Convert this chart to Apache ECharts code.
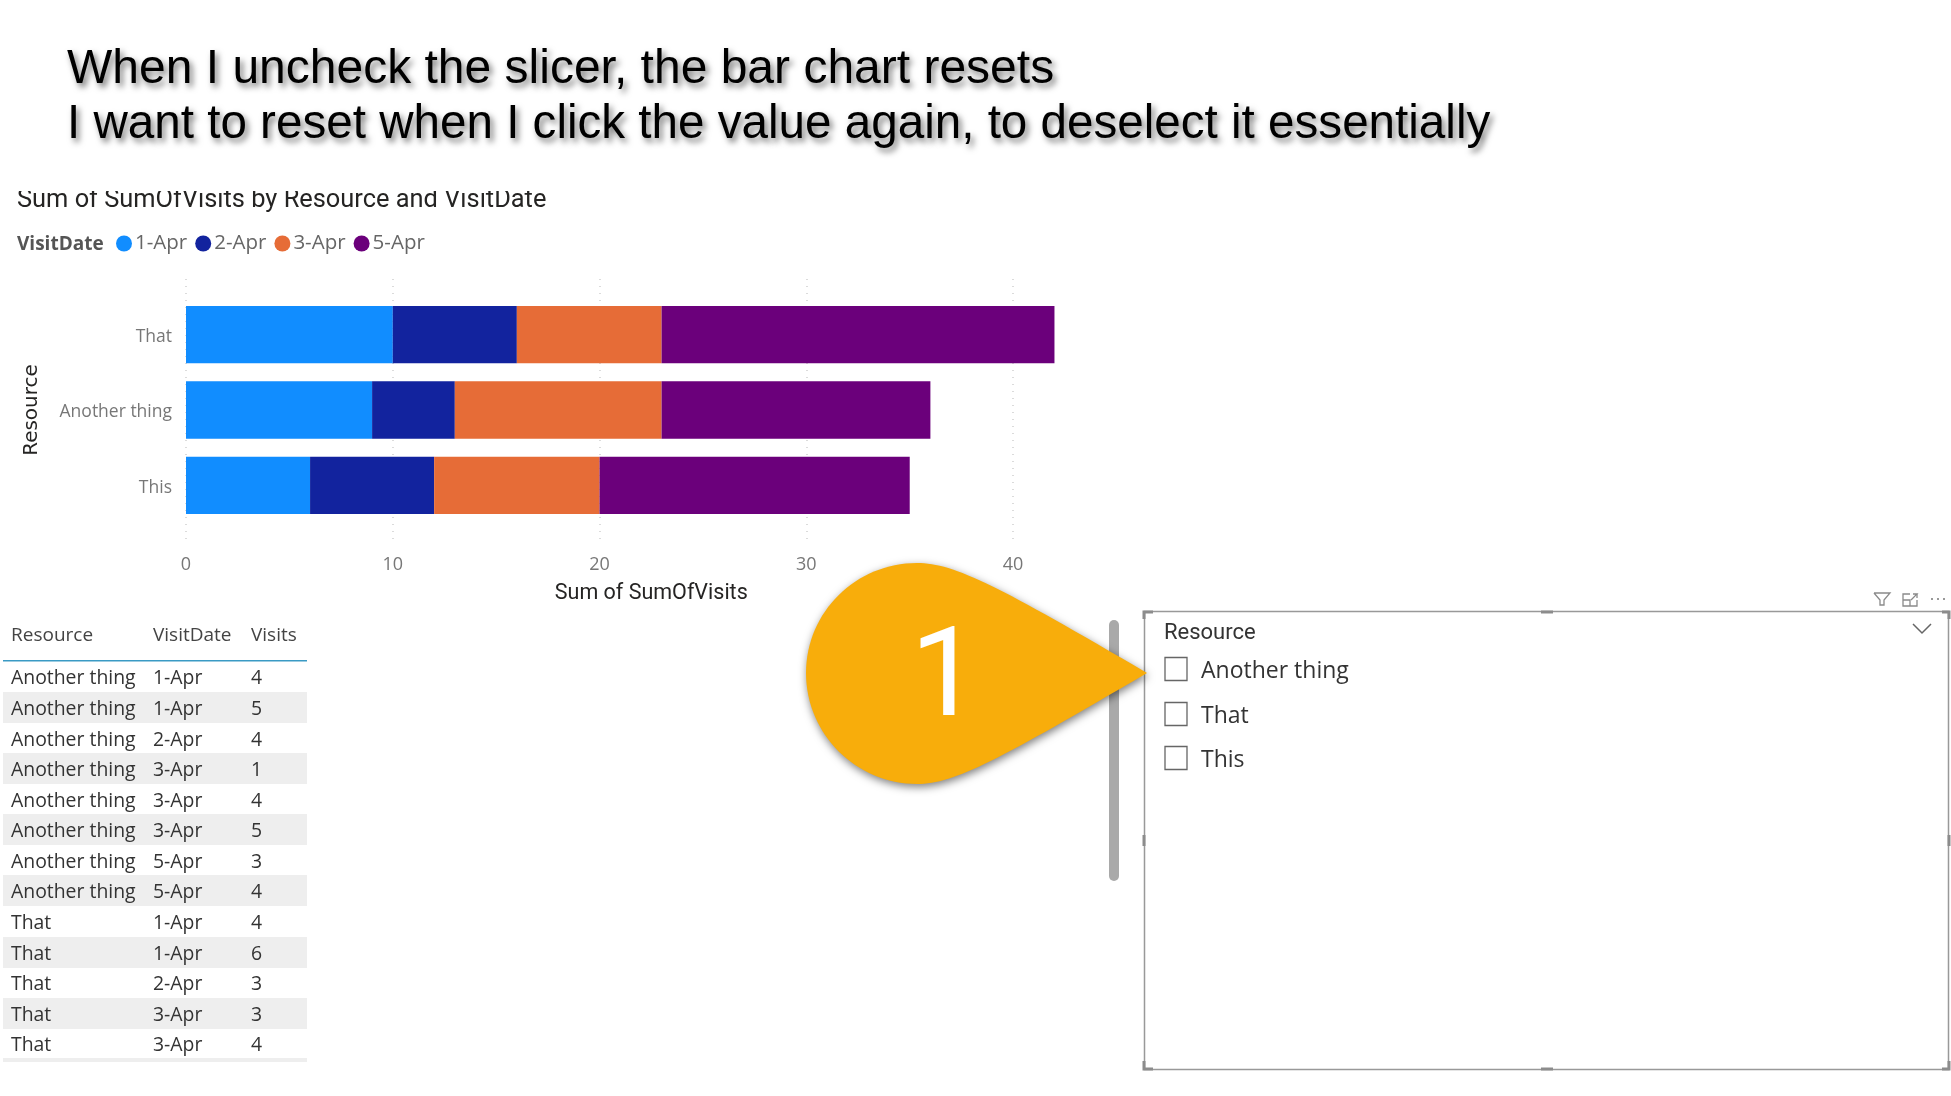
<!DOCTYPE html>
<html>
<head>
<meta charset="utf-8">
<title>Slicer</title>
<script src="https://cdn.jsdelivr.net/npm/echarts@6/dist/echarts.min.js"></script>
<style>
  html, body { margin: 0; padding: 0; background: #fff; }
  #main { width: 1951px; height: 1096px; }
</style>
</head>
<body>
<div id="main"></div>
<script>
// chart data
const resources = ['That', 'Another thing', 'This']
const dates = ['1-Apr', '2-Apr', '3-Apr', '5-Apr']
const apr1 = [10, 9, 6]
const apr2 = [6, 4, 6]
const apr3 = [7, 10, 8]
const apr5 = [19, 13, 15]
const colors = ['#118DFF', '#12239E', '#E66C37', '#6B007B']
const xTicks = [0, 10, 20, 30, 40]

// table visual
const tableHeader = ['Resource', 'VisitDate', 'Visits']
const tableResource = ['Another thing', 'Another thing', 'Another thing', 'Another thing', 'Another thing', 'Another thing', 'Another thing', 'Another thing', 'That', 'That', 'That', 'That', 'That']
const tableDate = ['1-Apr', '1-Apr', '2-Apr', '3-Apr', '3-Apr', '3-Apr', '5-Apr', '5-Apr', '1-Apr', '1-Apr', '2-Apr', '3-Apr', '3-Apr']
const tableVisits = [4, 5, 4, 1, 4, 5, 3, 4, 4, 6, 3, 3, 4]

// slicer
const slicerItems = ['Another thing', 'That', 'This']

const headline = ['When I uncheck the slicer, the bar chart resets', 'I want to reset when I click the value again, to deselect it essentially']
const headlineSize = [48, 47.6]
const UI = '"Open Sans", "Noto Sans", sans-serif'
const DIN = 'Roboto, sans-serif'

const chart = echarts.init(document.getElementById('main'))

function text (x, y, str, size, fill, extra) {
  return {
    type: 'text',
    z: 20,
    silent: true,
    style: Object.assign({ x, y, text: String(str), fontSize: size, fontFamily: UI, fill, textVerticalAlign: 'middle' }, extra)
  }
}
function bar (x, y, w, h, fill) {
  return { type: 'rect', z: 3, silent: true, shape: { x, y, width: w, height: h }, style: { fill } }
}
function stroke (points, color, w) {
  return { type: 'polyline', z: 21, silent: true, shape: { points }, style: { fill: null, stroke: color, lineWidth: w || 1.3 } }
}

const graphics = []

// headline
headline.forEach((line, i) => {
  graphics.push(text(67, 70 + i * 55, line, headlineSize[i], '#000', {
    fontFamily: '"Liberation Sans", Arial, sans-serif',
    textShadowColor: 'rgba(0,0,0,0.55)',
    textShadowBlur: 6,
    textShadowOffsetX: 3,
    textShadowOffsetY: 4
  }))
})

// chart title, the tops of its letters are cut off in the screenshot
graphics.push(text(17, 201, 'Sum of SumOfVisits by Resource and VisitDate', 25.4, '#252423', { fontFamily: DIN }))
graphics.push(Object.assign(bar(0, 170, 700, 21, '#fff'), { z: 25 }))
graphics.push(text(17, 245, 'VisitDate', 19, '#555', { fontWeight: 'bold' }))

// table
const rowY = [678, 709, 740, 770, 801, 831, 862, 892, 923, 954, 984, 1015, 1045]
const stripeY = [677, 708, 739, 769, 800, 830, 861, 891, 922, 953, 983, 1014, 1044]
const colX = [11, 153, 251]
tableHeader.forEach((h, i) => graphics.push(text(colX[i], 636, h, 19, '#444')))
graphics.push(bar(3, 660, 304, 1.5, '#3a9ac4'))
rowY.forEach((y, i) => {
  if (i % 2 === 1) graphics.push(bar(3, stripeY[i] - 16, 304, 31, '#eeeeee'))
  graphics.push(text(colX[0], y, tableResource[i], 19.4, '#333'))
  graphics.push(text(colX[1], y, tableDate[i], 19.4, '#333'))
  graphics.push(text(colX[2], y, tableVisits[i], 19.4, '#333'))
})
graphics.push(bar(3, 1058, 304, 4, '#eeeeee'))

// scrollbar behind the callout
graphics.push({ type: 'rect', z: 1, silent: true, shape: { x: 1109, y: 620, width: 10, height: 261, r: 5 }, style: { fill: '#a9a9a9' } })

// callout number
graphics.push(text(945, 684, '1', 124, '#fff', { fontFamily: 'Roboto, sans-serif', textAlign: 'center' }))

// slicer box
graphics.push({ type: 'rect', z: 2, silent: true, shape: { x: 1144.5, y: 611.5, width: 804, height: 458 }, style: { fill: null, stroke: '#999', lineWidth: 1.5 } })
graphics.push(text(1164, 633, 'Resource', 22, '#333', { fontFamily: DIN }))
const slicerY = [669, 714, 758]
slicerItems.forEach((item, i) => {
  graphics.push({ type: 'rect', z: 20, silent: true, shape: { x: 1165, y: slicerY[i] - 11.5, width: 22, height: 23 }, style: { fill: '#fff', stroke: '#666', lineWidth: 1.3 } })
  graphics.push(text(1201, slicerY[i] + 2, item, 23, '#333'))
})

// slicer resize handles
const hc = '#8c8c8c'
graphics.push(stroke([[1144, 619], [1144, 612], [1153, 612]], hc, 3))
graphics.push(stroke([[1942, 612], [1949, 612], [1949, 619]], hc, 3))
graphics.push(stroke([[1144, 1061], [1144, 1069], [1153, 1069]], hc, 3))
graphics.push(stroke([[1942, 1069], [1949, 1069], [1949, 1061]], hc, 3))
graphics.push(stroke([[1541, 612], [1553, 612]], hc, 3))
graphics.push(stroke([[1541, 1069], [1553, 1069]], hc, 3))
graphics.push(stroke([[1144, 835], [1144, 846]], hc, 3))
graphics.push(stroke([[1949, 835], [1949, 846]], hc, 3))

// visual header icons
const ic = '#8a8a8a'
graphics.push(stroke([[1874, 593], [1890, 593], [1884, 600], [1884, 605], [1880, 605], [1880, 600], [1874, 593]], ic))
graphics.push(stroke([[1910, 594], [1903, 594], [1903, 606], [1917, 606], [1917, 600]], ic))
graphics.push(stroke([[1903, 600], [1910, 600], [1910, 606]], ic))
graphics.push(stroke([[1911, 600], [1917, 594], [1913, 594]], ic))
graphics.push(stroke([[1917, 594], [1917, 598]], ic))
;[1932, 1938, 1944].forEach(x => graphics.push({ type: 'circle', z: 21, silent: true, shape: { cx: x, cy: 599, r: 1 }, style: { fill: '#777' } }))
graphics.push(stroke([[1913, 624], [1922, 633], [1931, 624]], '#666', 1.5))

// teardrop callout, drawn by a custom series so it can use a svg path
const dropPath = 'M917 563 C955 563 1000 587 1147 673 C1000 759 955 784 917 784 C856 784 806 734 806 673 C806 612 856 563 917 563 Z'

const valueSeries = [apr1, apr2, apr3, apr5]

const option = {
  animation: false,
  backgroundColor: '#fff',
  textStyle: { fontFamily: UI },
  legend: {
    left: 116,
    top: 233,
    padding: 0,
    icon: 'circle',
    itemWidth: 16,
    itemHeight: 16,
    itemGap: 8,
    data: dates,
    textStyle: { fontSize: 20.5, color: '#666', fontFamily: UI, padding: [0, 0, 0, -2] },
    selectedMode: false
  },
  grid: [
    { left: 186, width: 930.5, top: 297, height: 226 },
    { left: 186, width: 930.5, top: 279, height: 265 }
  ],
  xAxis: [
    { gridIndex: 0, type: 'value', min: 0, max: 45, interval: 10, show: false },
    {
      gridIndex: 1,
      type: 'value',
      min: xTicks[0],
      max: 45,
      interval: 10,
      position: 'bottom',
      name: 'Sum of SumOfVisits',
      nameLocation: 'middle',
      nameGap: 39,
      nameTextStyle: { fontSize: 21.5, color: '#252423', fontFamily: DIN },
      axisLine: { show: false },
      axisTick: { show: false },
      axisLabel: { fontSize: 18, color: '#777', margin: 12, fontFamily: UI, showMaxLabel: false },
      splitLine: { show: true, showMaxLine: false, lineStyle: { color: '#cfcfcf', type: [1, 6], width: 1.5 } }
    }
  ],
  yAxis: [
    {
      gridIndex: 0,
      type: 'category',
      inverse: true,
      data: resources,
      name: 'Resource',
      nameLocation: 'middle',
      nameRotate: 90,
      nameGap: 144,
      nameTextStyle: { fontSize: 20, color: '#252423', fontFamily: '"DejaVu Sans", sans-serif' },
      axisLine: { show: false },
      axisTick: { show: false },
      axisLabel: {
        margin: 14,
        formatter: v => '{l|' + v + '}',
        rich: { l: { fontSize: 17.5, color: '#777', fontFamily: UI, padding: [5, 0, 0, 0] } }
      },
      splitLine: { show: false }
    },
    { gridIndex: 1, type: 'category', data: [''], show: false }
  ],
  series: [
    ...dates.map((d, i) => ({
      name: d,
      type: 'bar',
      stack: 'visits',
      xAxisIndex: 0,
      yAxisIndex: 0,
      barWidth: '76%',
      data: valueSeries[i],
      itemStyle: { color: colors[i] },
      silent: true
    })),
    {
      type: 'custom',
      coordinateSystem: 'none',
      z: 10,
      silent: true,
      data: [[0]],
      renderItem: () => ({
        type: 'path',
        shape: { pathData: dropPath, x: 806, y: 563, width: 341, height: 221, layout: 'cover' },
        style: { fill: '#F8AD0B', shadowBlur: 8, shadowColor: 'rgba(0,0,0,0.5)', shadowOffsetX: 1, shadowOffsetY: 3 }
      })
    }
  ],
  graphic: { elements: graphics }
}

chart.setOption(option)
</script>
</body>
</html>
